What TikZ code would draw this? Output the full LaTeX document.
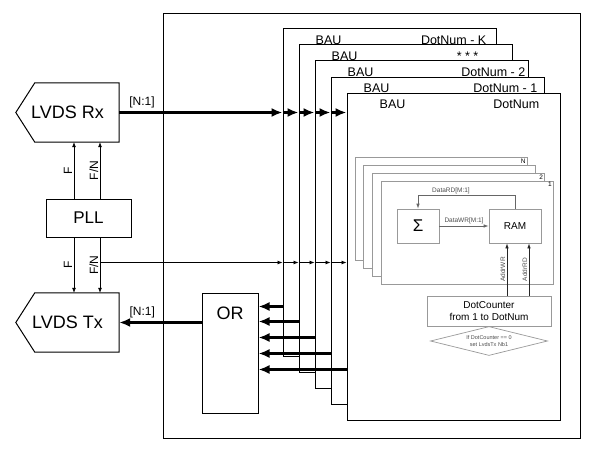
\documentclass[tikz,border=0pt]{standalone}
\usepackage{fontspec}
\setmainfont{Liberation Sans}
\usetikzlibrary{arrows.meta, calc, shapes.geometric}

\begin{document}
\begin{tikzpicture}[x=1pt, y=-1pt, >={Latex[length=5pt, width=4pt]},
  box/.style={draw, line width=1pt, fill=white, inner sep=0pt},
  gbox/.style={draw=black!40, line width=0.7pt, fill=white, inner sep=0pt},
  bus/.style={line width=2.3pt, -{Latex[length=11pt, width=9pt]}},
  sig/.style={line width=0.7pt, ->},
  garrow/.style={draw=black!60, line width=0.7pt, -{Latex[length=5pt, width=3.5pt]}},
  flab/.style={midway, rotate=90, anchor=south, inner sep=1.5pt, font=\fontsize{12}{14}\selectfont},
  blab/.style={font=\fontsize{12.5}{14}\selectfont, inner sep=0pt},
  tinylab/.style={font=\fontsize{6.5}{7}\selectfont, text=black!70, inner sep=1.5pt}]
  \useasboundingbox (0,0) rectangle (594,452);

  % system frame
  \node[box, minimum width=417pt, minimum height=424pt] (sys) at (371.5,226) {};

  % lvds blocks and pll
  \node[minimum width=103pt, minimum height=59pt, inner sep=0pt, font=\fontsize{18}{20}\selectfont] (rx) at (67.5,112.5) {LVDS Rx};
  \draw[line width=1pt] (rx.north east) -- (rx.south east) -- ($(rx.south west)+(19,0)$) -- (rx.west) -- ($(rx.north west)+(19,0)$) -- cycle;
  \node[minimum width=103pt, minimum height=59pt, inner sep=0pt, font=\fontsize{18}{20}\selectfont] (tx) at (67.5,322.5) {LVDS Tx};
  \draw[line width=1pt] (tx.north east) -- (tx.south east) -- ($(tx.south west)+(19,0)$) -- (tx.west) -- ($(tx.north west)+(19,0)$) -- cycle;
  \node[box, minimum width=85pt, minimum height=38pt, font=\fontsize{17}{19}\selectfont] (pll) at (88.5,218) {PLL};

  \coordinate (fa) at ($(pll.north)+(-14.5,0)$);
  \coordinate (fb) at ($(pll.north)+(11.5,0)$);
  \coordinate (fc) at ($(pll.south)+(-14.5,0)$);
  \coordinate (fd) at ($(pll.south)+(11.5,0)$);
  \draw[sig] (fa) -- (fa |- rx.south) node[flab] {F};
  \draw[sig] (fb) -- (fb |- rx.south) node[flab] {F/N};
  \draw[sig] (fc) -- (fc |- tx.north) node[flab] {F};
  \draw[sig] (fd) -- (fd |- tx.north) node[flab] {F/N};
  \coordinate (tap) at ($(fd)+(0,25)$);

  % BAU stack, back to front
  \foreach \i/\num/\dx in {4/{DotNum - K}/10, 3/{* * *}/34, 2/{DotNum - 2}/3, 1/{DotNum - 1}/7, 0/DotNum/21} {
    \node[box, minimum width=213pt, minimum height=327pt] (bau\i) at ({453.5-16*\i},{256.5-16*\i}) {};
    \node[blab, anchor=west] (bau\i-name) at ($(bau\i.north west)+(33,12)$) {BAU};
    \node[blab, anchor=east] (bau\i-num) at ($(bau\i.north east)+(-\dx,12)$) {\num};
  }

  % accumulator stack inside BAU
  \foreach \k/\lab in {3/N, 2/, 1/2, 0/1} {
    \node[gbox, minimum width=172pt, minimum height=103pt] (acc\k) at ({467-8.7*\k},{232.5-7.8*\k}) {};
    \node[tinylab, anchor=north east, text=black] (acc\k-lab) at (acc\k.north east) {\lab};
  }
  \node[gbox, minimum width=42pt, minimum height=34pt, font=\fontsize{17}{19}\selectfont] (sum) at (418,226) {Σ};
  \node[gbox, minimum width=52pt, minimum height=34pt, font=\fontsize{10}{12}\selectfont] (ram) at (515,226) {RAM};
  \draw[garrow] (sum) -- (ram) node[midway, above, tinylab] {DataWR[M:1]};
  \draw[garrow] (ram.north) -- ++(0,-13) -| node[pos=0.33, above, tinylab] {DataRD[M:1]} (sum.north);

  \node[gbox, minimum width=124pt, minimum height=30pt, align=center, font=\fontsize{10}{11.5}\selectfont] (cnt) at (489,311) {DotCounter\\from 1 to DotNum};
  \node[draw=black!40, line width=0.7pt, diamond, aspect=4, minimum width=117pt, minimum height=29pt, inner sep=0pt, align=center, font=\fontsize{5.5}{6.5}\selectfont, text=black!70] (chk) at (489,341) {If DotCounter == 0\\set LvdsTx Nb1};
  \coordinate (awr) at ($(ram.south)+(-8,0)$);
  \coordinate (ard) at ($(ram.south)+(14,0)$);
  \draw[garrow, draw=black!85] (awr |- cnt.north) -- (awr) node[midway, rotate=90, anchor=south, tinylab] {AddrWR};
  \draw[garrow, draw=black!85] (ard |- cnt.north) -- (ard) node[midway, rotate=90, anchor=south, tinylab] {AddrRD};

  % data bus from receiver
  \draw[bus] (rx.east) -- (rx.east -| bau4.west) node[pos=0.14, above, font=\fontsize{12}{14}\selectfont] {[N:1]};
  \foreach \i [remember=\i as \last (initially 4)] in {3,...,0}
    \draw[bus] (rx.east -| bau\last.west) -- (rx.east -| bau\i.west);

  % clock line F/N
  \draw[sig] (tap) -- (tap -| bau4.west);
  \foreach \i [remember=\i as \last (initially 4)] in {3,...,0}
    \draw[sig] (tap -| bau\last.west) -- (tap -| bau\i.west);

  % OR and transmitter
  \node[box, minimum width=56pt, minimum height=120pt] (or) at (230,353) {};
  \node[font=\fontsize{18}{20}\selectfont] (or-lab) at ($(or.north)+(0,21)$) {OR};
  \foreach \i/\dy in {4/14, 3/29, 2/45, 1/61, 0/77} {
    \coordinate (o\i) at ($(or.north east)+(0,\dy)$);
    \draw[bus] (bau\i.west |- o\i) -- (o\i);
  }
  \draw[bus] (or.west |- tx.east) -- (tx.east) node[pos=0.72, above, font=\fontsize{12}{14}\selectfont] {[N:1]};
\end{tikzpicture}
\end{document}
